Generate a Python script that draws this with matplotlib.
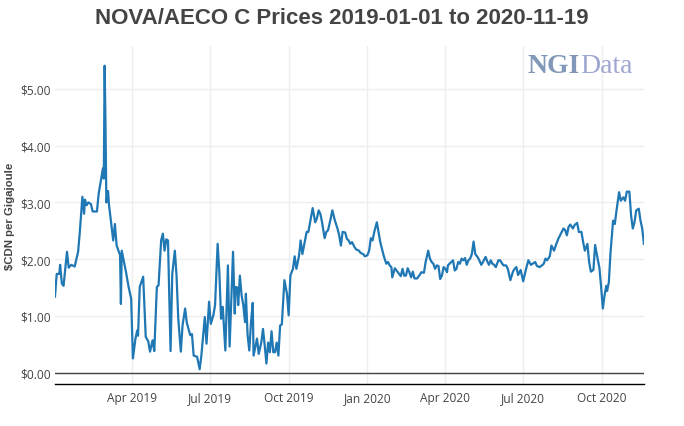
import matplotlib
matplotlib.use("Agg")
import matplotlib.pyplot as plt
import pandas as pd

# days after 2019-01-01 and the price ($CDN/GJ)
days = [0, 2, 5, 6, 8, 10, 12, 14, 16, 19, 23, 27, 29, 32, 34, 35, 37, 39, 42, 44,
        49, 51, 53, 55, 56, 57, 58, 59, 60, 62, 63, 66, 68, 70, 72, 76, 77, 78, 80, 83,
        86, 89, 91, 94, 96, 97, 99, 103, 106, 109, 111, 114, 116, 119, 121, 124, 126, 128, 130, 132,
        135, 137, 140, 142, 144, 147, 149, 152, 154, 158, 160, 162, 166, 169, 171, 175, 177, 180, 182, 185,
        187, 190, 192, 194, 196, 199, 202, 204, 208, 210, 211, 213, 214, 216, 218, 220, 222, 223, 225, 227,
        229, 231, 232, 236, 238, 241, 243, 245, 247, 249, 251, 253, 255, 257, 259, 261, 263, 265, 268, 271,
        273, 275, 278, 280, 282, 285, 287, 289, 292, 294, 296, 298, 301, 304, 306, 308, 310, 312, 315, 317,
        319, 322, 324, 327, 330, 332, 334, 336, 339, 341, 343, 345, 347, 350, 352, 355, 357, 360, 362, 365,
        367, 369, 371, 373, 376, 378, 380, 382, 384, 387, 389, 391, 393, 394, 397, 399, 402, 404, 406, 408,
        410, 412, 414, 416, 418, 420, 423, 426, 428, 431, 433, 436, 438, 440, 442, 444, 446, 448, 450, 452,
        454, 456, 458, 459, 461, 463, 465, 467, 469, 471, 473, 475, 477, 479, 481, 483, 485, 487, 489, 491,
        494, 496, 498, 500, 503, 505, 507, 509, 511, 513, 515, 518, 520, 522, 524, 527, 529, 532, 535, 537,
        539, 541, 544, 547, 550, 553, 556, 558, 561, 563, 566, 569, 571, 573, 575, 578, 580, 583, 585, 588,
        591, 594, 596, 598, 600, 602, 605, 607, 610, 612, 615, 617, 619, 622, 624, 626, 629, 631, 634, 636,
        638, 640, 642, 644, 645, 647, 649, 652, 654, 656, 659, 661, 664, 666, 668, 671, 673, 675, 677, 679,
        682, 684, 686, 688]
prices = [1.34, 1.74, 1.74, 1.90, 1.57, 1.53, 1.83, 2.13, 1.85, 1.90, 1.87, 2.13, 2.48, 3.10, 2.80, 3.05, 2.95, 3.00, 2.97, 2.84,
          2.84, 3.15, 3.33, 3.50, 3.60, 3.42, 5.41, 4.35, 3.00, 3.20, 2.97, 2.59, 2.33, 2.62, 2.24, 2.07, 1.21, 2.15, 2.00, 1.77,
          1.51, 1.30, 0.25, 0.60, 0.74, 0.65, 1.51, 1.69, 0.63, 0.55, 0.37, 0.57, 0.38, 1.51, 1.54, 2.33, 2.45, 2.15, 2.35, 2.33,
          0.38, 1.74, 2.15, 1.71, 0.95, 0.37, 0.83, 1.13, 0.88, 0.66, 0.68, 0.30, 0.28, 0.06, 0.30, 0.98, 0.51, 1.25, 0.86, 1.01,
          1.19, 2.27, 1.77, 0.95, 1.16, 0.39, 1.89, 0.46, 2.13, 1.04, 1.51, 1.50, 1.19, 1.71, 1.36, 1.19, 0.89, 1.39, 0.66, 0.39,
          0.89, 1.23, 0.30, 0.60, 0.33, 0.53, 0.77, 0.48, 0.16, 0.53, 0.36, 0.73, 0.36, 0.36, 0.53, 0.30, 0.83, 0.85, 1.63, 1.39,
          1.01, 1.71, 1.83, 2.05, 1.83, 2.05, 2.33, 2.09, 2.33, 2.48, 2.48, 2.65, 2.90, 2.65, 2.72, 2.86, 2.80, 2.65, 2.37, 2.48,
          2.51, 2.71, 2.86, 2.68, 2.54, 2.42, 2.24, 2.48, 2.47, 2.36, 2.33, 2.27, 2.30, 2.21, 2.17, 2.15, 2.11, 2.09, 2.05, 2.07,
          2.15, 2.37, 2.33, 2.48, 2.65, 2.48, 2.30, 2.18, 2.06, 1.92, 1.95, 1.89, 1.86, 1.68, 1.84, 1.80, 1.74, 1.70, 1.83, 1.71,
          1.71, 1.84, 1.77, 1.68, 1.78, 1.66, 1.66, 1.72, 1.77, 1.76, 1.95, 2.15, 2.01, 1.95, 1.92, 1.83, 1.89, 1.88, 1.65, 1.71,
          1.86, 1.83, 1.77, 1.89, 1.92, 1.95, 1.98, 1.80, 1.83, 1.95, 1.92, 2.01, 1.98, 2.02, 1.90, 1.98, 2.01, 2.09, 2.31, 2.09,
          2.03, 1.97, 1.90, 1.95, 2.04, 1.96, 1.90, 1.98, 1.92, 1.90, 1.86, 1.98, 1.98, 1.93, 1.89, 1.89, 1.83, 1.63, 1.78, 1.83,
          1.86, 1.72, 1.81, 1.61, 1.81, 1.98, 1.90, 1.92, 1.95, 1.88, 1.86, 1.89, 1.92, 2.01, 1.98, 2.05, 2.24, 2.15, 2.24, 2.36,
          2.45, 2.54, 2.51, 2.42, 2.57, 2.61, 2.54, 2.60, 2.64, 2.48, 2.48, 2.30, 2.15, 2.27, 1.95, 1.78, 1.81, 2.25, 2.00, 1.85,
          1.51, 1.13, 1.36, 1.53, 1.44, 1.59, 2.12, 2.68, 2.62, 2.86, 3.18, 3.03, 3.09, 3.03, 3.19, 3.19, 2.77, 2.54, 2.65, 2.86,
          2.89, 2.68, 2.54, 2.27]

start = pd.Timestamp("2019-01-01")
end = pd.Timestamp("2020-11-19")
dates = start + pd.to_timedelta(days, unit="D")

tick_dates = pd.to_datetime(["2019-04-01", "2019-07-01", "2019-10-01", "2020-01-01",
                             "2020-04-01", "2020-07-01", "2020-10-01"])
tick_labels = ["Apr 2019", "Jul 2019", "Oct 2019", "Jan 2020", "Apr 2020", "Jul 2020", "Oct 2020"]
y_ticks = [0, 1, 2, 3, 4, 5]

fig = plt.figure(figsize=(6.84, 4.27), dpi=100)
ax = fig.add_axes([0.0804, 0.0984, 0.861, 0.7906])

ax.plot(dates, prices, color="#1f77b4", lw=1.6, zorder=3)
ax.axhline(0, color="#444444", lw=1.0, zorder=2)

ax.set_xlim(start, end)
ax.set_ylim(-0.2, 5.75)
ax.set_xticks(tick_dates)
ax.set_xticklabels(tick_labels)
ax.set_yticks(y_ticks)
ax.set_yticklabels(["$%.2f" % v for v in y_ticks])
ax.grid(True, color="#eeeeee", lw=1.0, zorder=0)
ax.set_axisbelow(True)

for s in ["top", "right", "left"]:
    ax.spines[s].set_visible(False)
ax.spines["bottom"].set_color("#000000")
ax.spines["bottom"].set_linewidth(1.0)

ax.tick_params(axis="both", length=0, labelsize=8.6, labelcolor="#444444")
ax.tick_params(axis="x", pad=5)
ax.tick_params(axis="y", pad=3)
for lab in ax.get_xticklabels() + ax.get_yticklabels():
    lab.set_family("Open Sans")

ax.set_ylabel("$CDN per Gigajoule", fontsize=8.2, fontweight="bold",
              family="Liberation Sans", color="#444444")
ax.yaxis.set_label_coords(-0.068, 0.5)

fig.text(0.5, 0.957, "NOVA/AECO C Prices 2019-01-01 to 2020-11-19", ha="center", va="center",
         fontsize=16, fontweight="bold", family="Liberation Sans", color="#444444")

# NGI Data logo
fig.text(0.848, 0.829, "NGI", ha="right", va="baseline", fontsize=20, fontweight="bold",
         family="Liberation Serif", color="#7b93b4", alpha=0.95)
fig.text(0.848, 0.829, "Data", ha="left", va="baseline", fontsize=20,
         family="Liberation Serif", color="#9aa2cf", alpha=0.95)

fig.savefig("out.png", dpi=100, facecolor="white")
